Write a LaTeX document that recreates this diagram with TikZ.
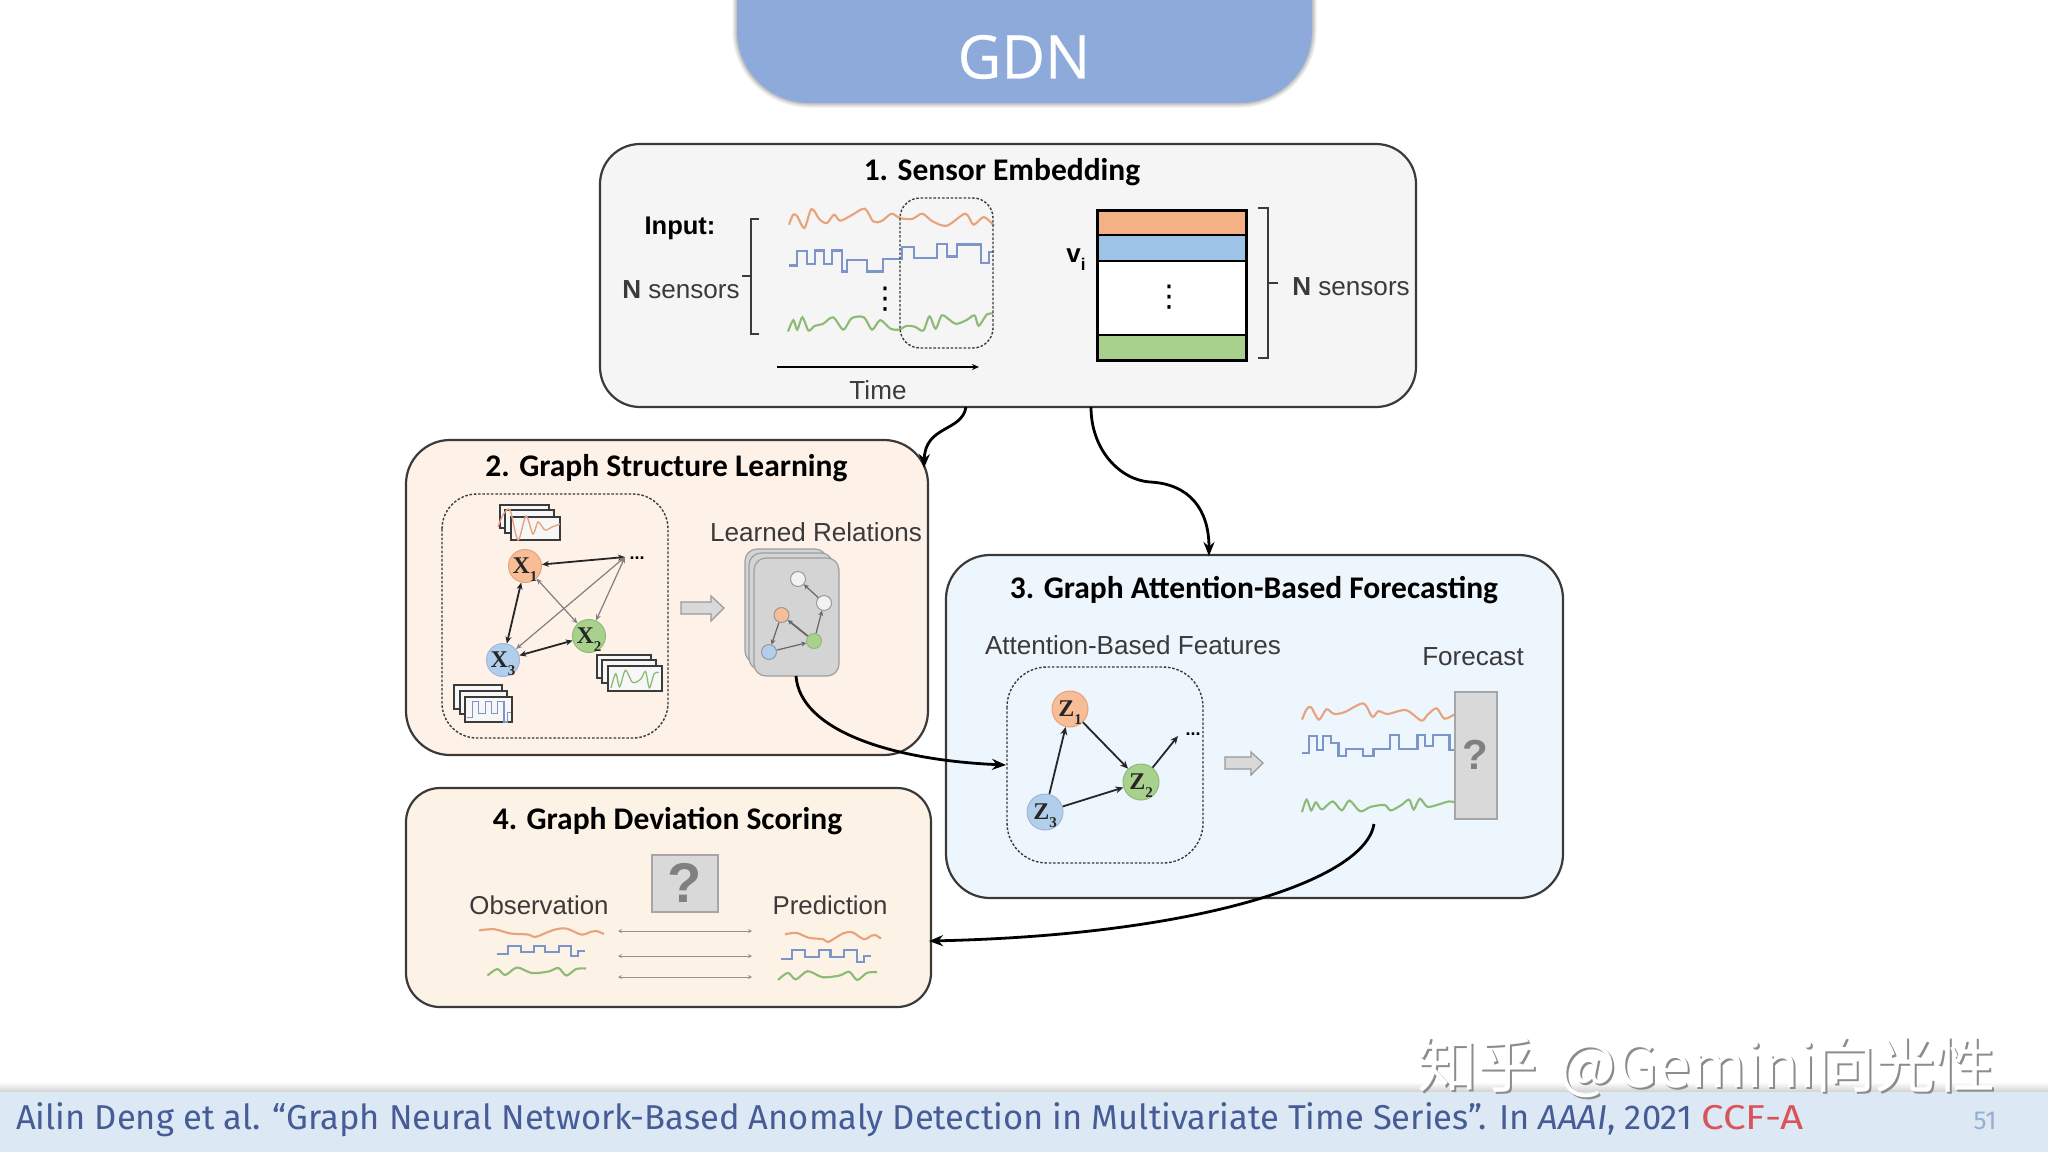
\documentclass[tikz,border=0pt]{standalone}
\usepackage{fontspec}
\usetikzlibrary{arrows.meta}
\setmainfont{Liberation Sans}
\newfontfamily\titlef{Carlito}[BoldFont=Carlito Bold]
\newfontfamily\serifb{Liberation Serif}[BoldFont=Liberation Serif Bold]
\newfontfamily\footf{Fira Sans}[ItalicFont=Fira Sans Italic]
\newfontfamily\headf{Open Sans}[FakeBold=0.5]
\newfontfamily\cjkf{Noto Sans CJK SC}
\newfontfamily\dejav{DejaVu Sans}
\newcommand\sz[1]{\fontsize{#1}{#1}\selectfont}
\newcommand\nsub[2]{#1\smash{\raisebox{-.3em}{\sz{15}#2}}}
\definecolor{cO}{HTML}{E8A27C}
\definecolor{cB}{HTML}{7C96CC}
\definecolor{cG}{HTML}{8DBB75}
\definecolor{fO}{HTML}{F4B183}
\definecolor{fB}{HTML}{9DC3E6}
\definecolor{fG}{HTML}{A9D18E}
\definecolor{line}{HTML}{3A3A3A}
\definecolor{hdr}{HTML}{8EAADB}
\definecolor{ftr}{HTML}{DDE8F5}
\definecolor{ftxt}{HTML}{465C96}
\definecolor{fpg}{HTML}{96AFD2}
\definecolor{fred}{HTML}{D9535B}
\definecolor{b2f}{HTML}{FDF1E8}
\definecolor{b3f}{HTML}{EEF6FD}
\definecolor{b4f}{HTML}{FDF2E6}
\newcommand\sigO{plot[smooth,tension=.5] coordinates {(0,6.7)(2,-3.3)(4,-1.7)(7.5,10)(11,-9)(15,1.7)(18.5,5)(22,-3.3)(25,2.7)(31,-3.3)(37,-9.3)(41,3.3)(45,3.3)(50,-4.3)(54,0)(60,1)(65,-4.3)(70,3.3)(77,7.7)(86,-4.3)(90,6.7)(95,-1)(100,7.7)}}
\newcommand\sigB{plot[sharp plot] coordinates {(0,5)(4,5)(4,-4.4)(8.7,-4.4)(8.7,4)(12.6,4)(12.6,-5)(17,-5)(17,4)(21,4)(21,-5)(26,-5)(26,9)(28.5,9)(28.5,1.5)(38,1.5)(38,9)(46,9)(46,.6)(55,.6)(55,-7.3)(61,-7.3)(61,0)(72,0)(72,-9.5)(77,-9.5)(77,-1)(82,-1)(82,-9)(93.7,-9)(93.7,3.3)(97.4,3.3)(97.4,-4)(100,-4)}}
\newcommand\sigG{plot[smooth,tension=.5] coordinates {(0,9)(2.6,-3)(4.5,7)(7,-6)(10,8)(13,3)(17,1)(22,-6)(27,7)(31,-5)(37,-6)(41,7)(45,-3)(50,6)(54,7)(58,3)(62,4)(66,8)(69,-7)(72,6)(75,-8)(79,-3)(82,1)(87,-3)(91,-8)(93,3)(97,-9)(100,-10)}}
\newcommand\fcO{plot[smooth,tension=.5] coordinates {(0,7)(3,-4)(6,-6)(11,7)(16,-4)(21,1)(28,-1)(40,-10)(46,4)(50,-2)(56,1)(68,-3)(78,8)(82,2)(88,-5)(93,6)(100,1)}}
\newcommand\fcB{plot[sharp plot] coordinates {(0,5)(4.5,5)(4.5,-7)(10,-7)(10,3)(14,3)(14,-7)(19,-7)(19,-2)(24,-2)(24,7)(29,7)(29,2)(40,2)(40,7)(47,7)(47,2)(58,2)(58,-8)(64,-8)(64,2)(76,2)(76,-8)(81,-8)(81,0)(86,0)(86,-8)(97,-8)(97,3)(100,3)}}
\newcommand\fcG{plot[smooth,tension=.5] coordinates {(0,8)(3,-6)(6,6)(9,-3)(13,5)(20,-4)(26,6)(31,-5)(38,7)(45,2)(54,0)(58,6)(65,0)(70,-6)(73,5)(77,-7)(82,2)(90,-1)(96,-4)(100,-3)}}
\newcommand\smO{plot[smooth,tension=.5] coordinates {(0,-1)(12,-3)(25,4)(40,6)(45,10)(60,-2)(70,-4)(82,6)(90,1)(94,0)(100,5)}}
\newcommand\smB{plot[sharp plot] coordinates {(0,6)(12,6)(12,-7)(27,-7)(27,3)(42,3)(42,-7)(55,-7)(55,3)(70,3)(70,-7)(84,-7)(84,10)(92,10)(92,2)(100,2)}}
\newcommand\smG{plot[smooth,tension=.5] coordinates {(0,9)(10,-4)(18,8)(30,-7)(45,4)(62,1)(72,-6)(80,9)(90,-4)(100,-5)}}
\newcommand\sgn[4]{\begin{scope}[shift={(#1,#2)},xscale=#3,yscale=#4]}
\tikzset{
  stagebox/.style={draw=line,line width=2.2pt,inner sep=0pt},
  headt/.style={font=\titlef\bfseries\sz{31.5},text=black,inner sep=0pt},
  lab/.style={font=\sz{26.1},text=line,inner sep=0pt},
  dashbox/.style={draw=line,line width=1.4pt,dash pattern=on 2.5pt off 1.8pt},
  sO/.style={draw=cO,line width=2.1pt},
  sB/.style={draw=cB,line width=2.1pt},
  sG/.style={draw=cG,line width=2.1pt},
  bigarrow/.style={draw=black,line width=2.8pt,-{Stealth[length=14pt,width=11pt]}},
  gnode/.style={circle,inner sep=0pt,minimum size=33pt,line width=1pt,font=\serifb\bfseries\sz{24},text=black!85},
  znode/.style={gnode,minimum size=36pt},
  mini/.style={circle,inner sep=0pt,minimum size=15pt,line width=1pt,draw=black!40},
  dark/.style={draw=black!85,line width=1.8pt,{Stealth[length=7pt,width=6pt]}-{Stealth[length=7pt,width=6pt]}},
  pale/.style={draw=black!50,line width=1.2pt,{Stealth[length=6pt,width=5pt]}-{Stealth[length=6pt,width=5pt]}},
  one/.style={draw=black!85,line width=1.8pt,-{Stealth[length=8pt,width=7pt]}},
  minie/.style={draw=black!60,line width=1.2pt,-{Stealth[length=5pt,width=5pt]}},
  greyarrow/.style={fill=black!15,draw=black!40,line width=1.2pt},
  card/.style={fill=black!17,draw=black!38,line width=1.2pt,rounded corners=12pt},
  qbox/.style={fill=black!15,draw=black!35,line width=1.2pt},
  thumb/.style={fill=black!3,draw=line,line width=1.1pt},
  cmp/.style={draw=black!42,line width=1pt,{Stealth[length=4pt,width=4pt]}-{Stealth[length=4pt,width=4pt]}},
  vd/.style={inner sep=0pt,font=\dejav\sz{30},text=black},
}
\begin{document}
\begin{tikzpicture}[x=1pt,y=-1pt]
\useasboundingbox (0,0) rectangle (2048,1152);
\fill[white] (0,0) rectangle (2048,1152);
% header
\begin{scope}
\clip (0,0) rectangle (2048,1152);
\foreach \w/\o in {9/.07,6/.08,3/.1}
  \draw[black,opacity=\o,line width=\w pt] (737,-20) -- (737,31) arc[start angle=180,end angle=90,radius=72] -- (1240,103) arc[start angle=90,end angle=0,radius=72] -- (1312,-20);
\fill[hdr] (737,-20) -- (737,31) arc[start angle=180,end angle=90,radius=72] -- (1240,103) arc[start angle=90,end angle=0,radius=72] -- (1312,-20) -- cycle;
\end{scope}
\node[font=\headf\sz{60},text=white,inner sep=0pt] (gdn) at (1024,57) {GDN};
% footer
\shade[top color=white,bottom color=black!18] (0,1082) rectangle (2048,1092);
\fill[ftr] (0,1092) rectangle (2048,1152);
\node[anchor=west,font=\footf\sz{34.5},text=ftxt,inner sep=0pt] (cite) at (16,1120) {Ailin Deng et al. “Graph Neural Network-Based Anomaly Detection in Multivariate Time Series”. In \textit{AAAI}, 2021 \textcolor{fred}{\addfontfeature{FakeStretch=1.17}CCF-A}};
\node[font=\footf\sz{26},text=fpg,inner sep=0pt] (pg) at (1985,1121) {51};
% watermark
\node[font=\cjkf\sz{60},text=black!45,inner sep=0pt] (wms) at (1708.5,1069.5) {知乎\hspace{9pt} @Gemini向光性};
\node[font=\cjkf\sz{60},text=white,inner sep=0pt] (wm) at (1706.5,1067.5) {知乎\hspace{9pt} @Gemini向光性};
% boxes
\node[stagebox,fill=black!4,rounded corners=40pt,minimum width=816pt,minimum height=263pt] (b1) at (1008,275.5) {};
\node[stagebox,fill=b2f,rounded corners=44pt,minimum width=522pt,minimum height=315pt] (b2) at (667,597.5) {};
\node[stagebox,fill=b3f,rounded corners=44pt,minimum width=617pt,minimum height=343pt] (b3) at (1254.5,726.5) {};
\node[stagebox,fill=b4f,rounded corners=34pt,minimum width=525pt,minimum height=219pt] (b4) at (668.5,897.5) {};
% titles
\node[headt] (t1) at (1002,172) {1. Sensor Embedding};
\node[headt] (t2) at (666.5,468) {2. Graph Structure Learning};
\node[headt] (t3) at (1254,590.5) {3. Graph Attention-Based Forecasting};
\node[headt] (t4) at (667.5,821) {4. Graph Deviation Scoring};
% box 1 contents
\node[lab,font=\bfseries\sz{25.5},text=black] (inp) at (680,228) {Input:};
\node[lab] (ns1) at (681,290) {\textbf{N} sensors};
\draw[line,line width=1.1pt] (759,219) -- (751,219) -- (751,334) -- (759,334) (751,276) -- (742,276);
\sgn{789}{218}{2.05}{1} \draw[sO] \sigO; \end{scope}
\sgn{789}{258}{2.05}{1.5} \draw[sB] \sigB; \end{scope}
\sgn{788}{323}{2.05}{.95} \draw[sG] \sigG; \end{scope}
\node[vd] (vd1) at (885,299) {⋮};
\draw[dashbox,rounded corners=20pt] (900,198) rectangle (993,348);
\coordinate (tS) at (777,367);
\coordinate (tE) at (979,367);
\draw[draw=black,line width=2pt,-{Stealth[length=7pt,width=6pt]}] (tS) -- (tE);
\node[lab] (time) at (878,390) {Time};
\node[lab,font=\bfseries\sz{26},text=black] (vi) at (1076,256) {v\smash{\raisebox{-.3em}{\sz{17}i}}};
\fill[fO] (1097,210) rectangle (1246,235);
\fill[fB] (1097,235) rectangle (1246,261);
\fill[white] (1097,261) rectangle (1246,335);
\fill[fG] (1097,335) rectangle (1246,360);
\draw[black,line width=1.6pt] (1097,235) -- (1246,235) (1097,261) -- (1246,261) (1097,335) -- (1246,335);
\draw[black,line width=3pt] (1097,210) rectangle (1246,360);
\node[vd] (vd2) at (1169,297) {⋮};
\draw[line,line width=1.1pt] (1258,208) -- (1268,208) -- (1268,358) -- (1258,358) (1268,283) -- (1278,283);
\node[lab] (ns2) at (1351,287) {\textbf{N} sensors};
% box 2 contents
\draw[dashbox,rounded corners=35pt] (442,494) rectangle (668,738);
\draw[thumb] (500,505) rectangle (549,528);
\draw[thumb] (505,510) rectangle (554,533);
\draw[thumb] (511,517) rectangle (560,540);
\draw[sO,line width=1.4pt] plot[smooth,tension=.5] coordinates {(498,527)(503,515)(510,510)(518,540)(526,516)(533,534)(538,522)(545,530)(552,527)(560,524)};
\draw[thumb] (597,655) rectangle (651,678);
\draw[thumb] (602,660) rectangle (656,683);
\draw[thumb] (608,666) rectangle (662,691);
\sgn{611}{678}{.48}{1.1} \draw[sG,line width=1.3pt] \smG; \end{scope}
\draw[thumb] (454,685) rectangle (502,709);
\draw[thumb] (460,691) rectangle (507,714);
\draw[thumb] (465,697) rectangle (512,722);
\sgn{467}{710}{.44}{1.2} \draw[sB,line width=1.2pt] \smB; \end{scope}
\node[gnode,draw=cO,fill=fO!85!white] (x1) at (525,566) {\nsub{X}{1}};
\node[gnode,draw=cG,fill=fG] (x2) at (589,636) {\nsub{X}{2}};
\node[gnode,draw=cB!70,fill=fB!80!white] (x3) at (503,660) {\nsub{X}{3}};
\coordinate (xd) at (625,557);
\node[font=\bfseries\sz{18},inner sep=0pt,text=black] (xdots) at (637,558) {...};
\draw[dark] (x1) -- (xd);
\draw[dark] (x1) -- (x3);
\draw[dark] (x3) -- (x2);
\draw[pale] (x1) -- (x2);
\draw[pale] (x3) -- (xd);
\draw[pale] (x2) -- (xd);
\draw[greyarrow] (681,602) -- (711,602) -- (711,596) -- (724,608) -- (711,621) -- (711,614) -- (681,614) -- cycle;
\node[lab] (lr) at (816,532) {Learned Relations};
\draw[card] (745,549) rectangle (827,663);
\draw[card] (749,553) rectangle (833,670);
\draw[card] (754,558) rectangle (839,676);
\node[mini,fill=black!5] (m1) at (798,579) {};
\node[mini,fill=black!5] (m2) at (824,603) {};
\node[mini,fill=fO!85!white] (m3) at (781.5,615) {};
\node[mini,fill=fG,draw=cG] (m4) at (814,641) {};
\node[mini,fill=fB!80!white] (m5) at (769,652) {};
\draw[minie] (m2) -- (m1);
\draw[minie] (m4) -- (m2);
\draw[minie,line width=1.8pt] (m4) -- (m3);
\draw[minie] (m3) -- (m5);
\draw[minie] (m5) -- (m4);
% box 3 contents
\node[lab] (abf) at (1133,645) {Attention-Based Features};
\node[lab] (fc) at (1473,657) {Forecast};
\draw[dashbox,rounded corners=40pt] (1007,667) rectangle (1203,863);
\node[znode,draw=cO,fill=fO!85!white] (z1) at (1070,709) {\nsub{Z}{1}};
\node[znode,draw=cG,fill=fG] (z2) at (1141,782) {\nsub{Z}{2}};
\node[znode,draw=cB!70,fill=fB!80!white] (z3) at (1045,812) {\nsub{Z}{3}};
\coordinate (zd) at (1178,736);
\node[font=\bfseries\sz{18},inner sep=0pt,text=black] (zdots) at (1193,734) {...};
\draw[one] (z3) -- (z1);
\draw[one] (z1) -- (z2);
\draw[one] (z3) -- (z2);
\draw[one] (z2) -- (zd);
\draw[greyarrow] (1225,757) -- (1251,757) -- (1251,752) -- (1263,763) -- (1251,775) -- (1251,769) -- (1225,769) -- cycle;
\sgn{1302}{713}{1.53}{.95} \draw[sO] \fcO; \end{scope}
\sgn{1302}{746}{1.52}{1.4} \draw[sB] \fcB; \end{scope}
\sgn{1302}{805}{1.53}{.9} \draw[sG] \fcG; \end{scope}
\node[qbox,minimum width=42pt,minimum height=127pt,inner sep=0pt] (fq) at (1476,755.5) {};
\node[font=\bfseries\sz{42},text=black!50,inner sep=0pt] (fqm) at (1475,755) {?};
% box 4 contents
\node[qbox,minimum width=66pt,minimum height=57pt,inner sep=0pt] (oq) at (685,883.5) {};
\node[font=\bfseries\sz{56},text=black!50,inner sep=0pt] (oqm) at (685,883) {?};
\node[lab,font=\sz{25.8}] (ob) at (539,905) {Observation};
\node[lab,font=\sz{25.8}] (pr) at (830,905) {Prediction};
\sgn{479}{931}{1.25}{.6} \draw[sO] \smO; \end{scope}
\sgn{497}{950}{.88}{.6} \draw[sB] \smB; \end{scope}
\sgn{487.5}{971}{.985}{.5} \draw[sG] \smG; \end{scope}
\sgn{785}{935}{.96}{.7} \draw[sO] \smO; \end{scope}
\sgn{781}{955}{.9}{.7} \draw[sB] \smB; \end{scope}
\sgn{778}{975}{.99}{.55} \draw[sG] \smG; \end{scope}
\coordinate (c1a) at (618,931); \coordinate (c1b) at (752,931);
\coordinate (c2a) at (618,956); \coordinate (c2b) at (752,956);
\coordinate (c3a) at (618,977); \coordinate (c3b) at (752,977);
\draw[cmp] (c1a) -- (c1b);
\draw[cmp] (c2a) -- (c2b);
\draw[cmp] (c3a) -- (c3b);
% connectors
\coordinate (s12) at (966,407);
\coordinate (e12) at (924,468);
\coordinate (s13) at (1091,407);
\coordinate (m13) at (1150,482);
\coordinate (e13) at (1209,556);
\coordinate (s23) at (796,676);
\coordinate (e23) at (1006,765);
\coordinate (s34) at (1374,824);
\coordinate (e34) at (929,941);
\draw[bigarrow] (s12) .. controls (962,432) and (925,425) .. (e12);
\draw[bigarrow] (s13) .. controls (1091,450) and (1120,480) .. (m13) .. controls (1190,484) and (1209,510) .. (e13);
\draw[bigarrow] (s23) .. controls (800,730) and (890,760) .. (e23);
\draw[bigarrow] (s34) .. controls (1365,880) and (1200,935) .. (e34);
\end{tikzpicture}
\end{document}
